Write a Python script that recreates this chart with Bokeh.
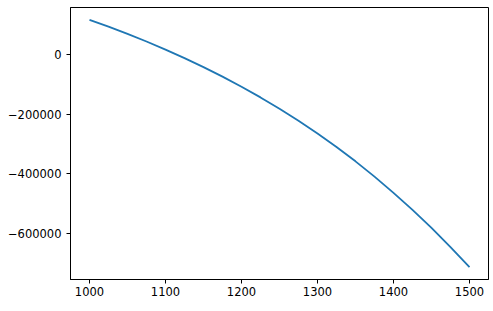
from bokeh.plotting import figure
from bokeh.models import Range1d, FixedTicker, CustomJSTickFormatter
from bokeh.embed import file_html
from bokeh.resources import INLINE

# Data
x_values = [1000, 1025, 1050, 1075, 1100, 1125, 1150, 1175, 1200, 1225, 1250,
            1275, 1300, 1325, 1350, 1375, 1400, 1425, 1450, 1475, 1500]
y_values = [118000, 95200, 71000, 45300, 18000, -10700, -41000, -73000,
            -107000, -142900, -181000, -221200, -264000, -309600, -358000,
            -409500, -464000, -521400, -582000, -646300, -714000]
x_ticks = [1000, 1100, 1200, 1300, 1400, 1500]
y_ticks = [-600000, -400000, -200000, 0]

p = figure(width=493, height=311, output_backend="svg", toolbar_location=None,
           x_range=Range1d(975, 1525), y_range=Range1d(-755600, 159600),
           min_border_left=70, min_border_right=5, min_border_top=7,
           min_border_bottom=32)
p.line(x_values, y_values, line_color="#1f77b4", line_width=1.8)

p.grid.visible = False
p.outline_line_color = "black"
p.outline_line_width = 1
p.background_fill_color = "white"
p.border_fill_color = "white"

fmt = CustomJSTickFormatter(code="return tick.toString().replace('-', '\u2212');")
for ax, ticks, standoff in ((p.xaxis, x_ticks, 3), (p.yaxis, y_ticks, 5)):
    ax.ticker = FixedTicker(ticks=ticks)
    ax.formatter = fmt
    ax.axis_line_color = "black"
    ax.axis_line_width = 1
    ax.major_tick_line_color = "black"
    ax.major_tick_out = 4
    ax.major_tick_in = 0
    ax.minor_tick_line_color = None
    ax.major_label_text_font = "DejaVu Sans"
    ax.major_label_text_font_size = "11.5px"
    ax.major_label_text_color = "black"
    ax.major_label_standoff = standoff

open("out.html", "w").write(file_html(p, INLINE))
